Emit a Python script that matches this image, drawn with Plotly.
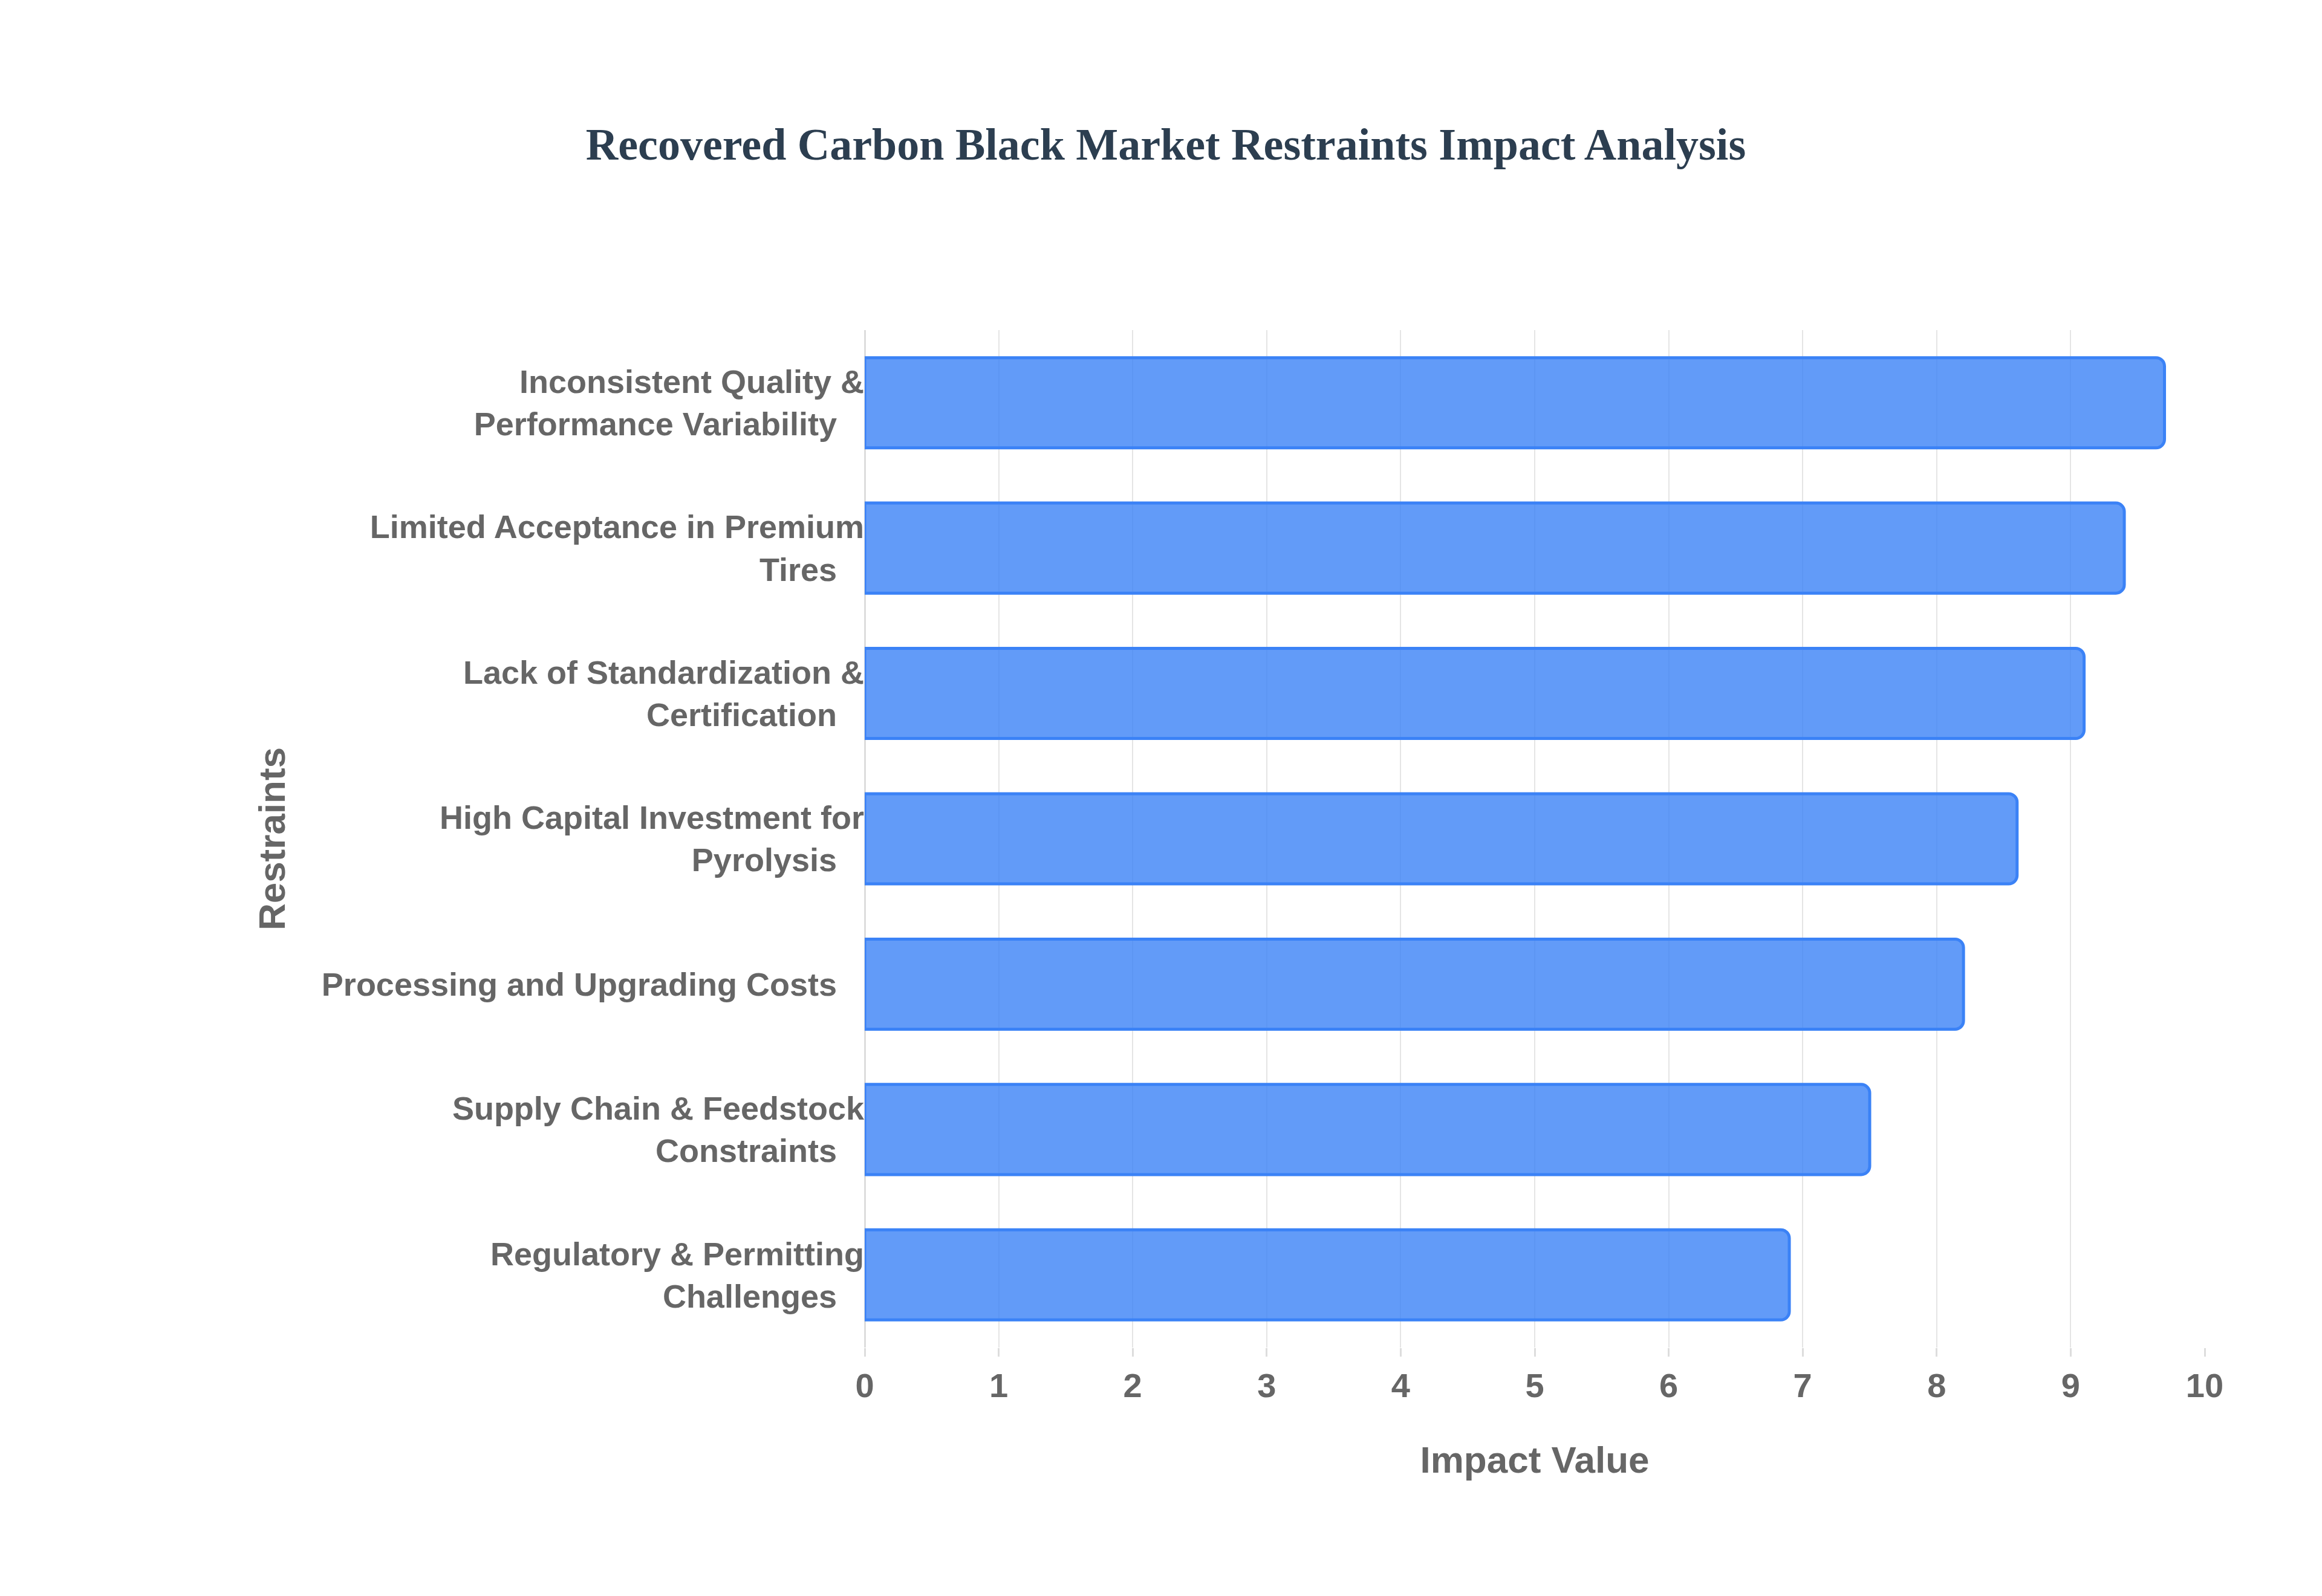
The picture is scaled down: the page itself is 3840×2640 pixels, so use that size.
import plotly.graph_objects as go

categories = [
    "Inconsistent Quality &<br>Performance Variability",
    "Limited Acceptance in Premium<br>Tires",
    "Lack of Standardization &<br>Certification",
    "High Capital Investment for<br>Pyrolysis",
    "Processing and Upgrading Costs",
    "Supply Chain & Feedstock<br>Constraints",
    "Regulatory & Permitting<br>Challenges",
]
values = [9.7, 9.4, 9.1, 8.6, 8.2, 7.5, 6.9]

fig = go.Figure(go.Bar(
    x=values, y=categories, orientation="h",
    marker=dict(color="rgba(59,130,246,0.8)", line=dict(color="#3b82f6", width=5), cornerradius=14),
))
fig.update_layout(
    width=3840, height=2640,
    paper_bgcolor="white", plot_bgcolor="white",
    margin=dict(l=1422, r=202, t=538, b=419),
    bargap=0.38,
    title=dict(text="<b>Recovered Carbon Black Market Restraints Impact Analysis</b>",
               x=0.5, xanchor="center", y=0.913, yref="container", yanchor="middle",
               font=dict(family="Liberation Serif, Times New Roman, serif", size=74, color="#2c3e50")),
    font=dict(family="Liberation Sans, Arial, sans-serif", color="#666666"),
    showlegend=False,
)
fig.update_xaxes(range=[0, 10], dtick=1, showgrid=True, gridcolor="#e5e5e5", gridwidth=2,
                 zeroline=True, zerolinecolor="#dddddd", zerolinewidth=3,
                 ticks="outside", ticklen=14, tickcolor="#dddddd", tickwidth=3,
                 tickfont=dict(size=56, color="#666666", family="Liberation Sans, Arial, sans-serif"),
                 title=dict(text="<b>Impact Value</b>", font=dict(size=62, color="#666666"), standoff=70))
fig.update_yaxes(autorange="reversed", showgrid=False, ticks="", ticksuffix="   ",
                 tickfont=dict(size=54, color="#666666", family="Liberation Sans, Arial, sans-serif"),
                 title=dict(text="<b>Restraints</b>", font=dict(size=62, color="#666666"), standoff=40))
fig.update_layout(yaxis_tickprefix="<b>", xaxis_tickprefix="<b>")
fig.write_html("out.html")
